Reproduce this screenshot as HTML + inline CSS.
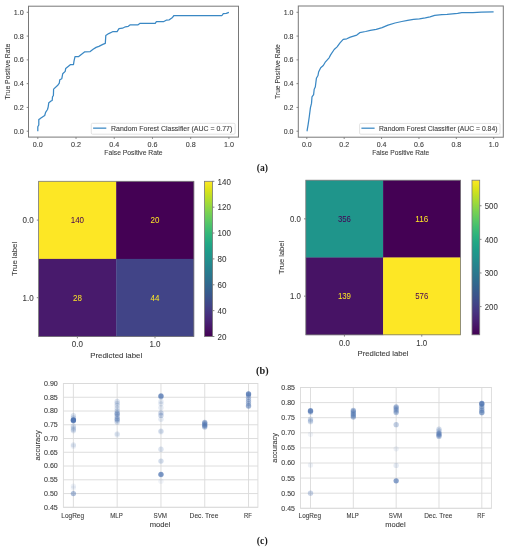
<!DOCTYPE html>
<html><head><meta charset="utf-8"><style>
html,body{margin:0;padding:0;background:#fff;}
svg{display:block;filter:blur(0.35px);font-family:"Liberation Sans", sans-serif;}
</style></head><body>
<svg width="510" height="550" viewBox="0 0 510 550">
<rect width="510" height="550" fill="#fff"/>
<path d="M37.8,131.2 L37.8,126.8 L38.8,125.0 L38.8,119.5 L40.2,118.6 L44.7,115.5 L45.6,112.3 L47.5,109.5 L48.2,106.8 L48.8,102.7 L51.1,100.9 L52.2,100.5 L52.5,96.8 L53.4,95.5 L53.6,89.1 L57.5,85.5 L59.3,83.1 L59.8,79.7 L61.8,78.7 L62.7,73.8 L65.2,71.4 L65.7,68.4 L70.6,64.5 L73.5,64.5 L74.0,61.1 L75.0,56.7 L78.4,56.7 L84.8,51.8 L90.2,51.6 L93.1,49.3 L96.1,47.4 L98.9,46.4 L102.8,44.4 L105.3,43.4 L105.8,35.6 L108.7,33.6 L112.6,31.7 L117.1,31.7 L119.0,28.7 L122.5,28.2 L125.4,26.8 L128.3,26.3 L130.3,24.8 L138.1,24.8 L140.1,23.3 L155.2,23.3 L156.4,21.7 L163.4,21.7 L166.2,20.2 L169.3,19.8 L172.5,17.4 L174.0,15.5 L222.0,15.5 L223.3,13.7 L226.3,13.3 L228.9,12.3" fill="none" stroke="#3a88c4" stroke-width="1.25" stroke-linejoin="round"/>
<rect x="28.5" y="6.2" width="210.0" height="130.9" fill="none" stroke="#787878" stroke-width="1"/>
<line x1="26.7" y1="131.20" x2="28.5" y2="131.20" stroke="#787878" stroke-width="0.9"/>
<text x="23.70" y="133.80" font-size="6.65" text-anchor="end" fill="#3a3a3a" stroke="#3a3a3a" stroke-width="0.08" textLength="9.97" lengthAdjust="spacingAndGlyphs">0.0</text>
<line x1="37.80" y1="137.1" x2="37.80" y2="138.9" stroke="#787878" stroke-width="0.9"/>
<text x="37.80" y="146.70" font-size="6.65" text-anchor="middle" fill="#3a3a3a" stroke="#3a3a3a" stroke-width="0.08" textLength="9.97" lengthAdjust="spacingAndGlyphs">0.0</text>
<line x1="26.7" y1="107.42" x2="28.5" y2="107.42" stroke="#787878" stroke-width="0.9"/>
<text x="23.70" y="110.02" font-size="6.65" text-anchor="end" fill="#3a3a3a" stroke="#3a3a3a" stroke-width="0.08" textLength="9.97" lengthAdjust="spacingAndGlyphs">0.2</text>
<line x1="76.02" y1="137.1" x2="76.02" y2="138.9" stroke="#787878" stroke-width="0.9"/>
<text x="76.02" y="146.70" font-size="6.65" text-anchor="middle" fill="#3a3a3a" stroke="#3a3a3a" stroke-width="0.08" textLength="9.97" lengthAdjust="spacingAndGlyphs">0.2</text>
<line x1="26.7" y1="83.64" x2="28.5" y2="83.64" stroke="#787878" stroke-width="0.9"/>
<text x="23.70" y="86.24" font-size="6.65" text-anchor="end" fill="#3a3a3a" stroke="#3a3a3a" stroke-width="0.08" textLength="9.97" lengthAdjust="spacingAndGlyphs">0.4</text>
<line x1="114.24" y1="137.1" x2="114.24" y2="138.9" stroke="#787878" stroke-width="0.9"/>
<text x="114.24" y="146.70" font-size="6.65" text-anchor="middle" fill="#3a3a3a" stroke="#3a3a3a" stroke-width="0.08" textLength="9.97" lengthAdjust="spacingAndGlyphs">0.4</text>
<line x1="26.7" y1="59.86" x2="28.5" y2="59.86" stroke="#787878" stroke-width="0.9"/>
<text x="23.70" y="62.46" font-size="6.65" text-anchor="end" fill="#3a3a3a" stroke="#3a3a3a" stroke-width="0.08" textLength="9.97" lengthAdjust="spacingAndGlyphs">0.6</text>
<line x1="152.46" y1="137.1" x2="152.46" y2="138.9" stroke="#787878" stroke-width="0.9"/>
<text x="152.46" y="146.70" font-size="6.65" text-anchor="middle" fill="#3a3a3a" stroke="#3a3a3a" stroke-width="0.08" textLength="9.97" lengthAdjust="spacingAndGlyphs">0.6</text>
<line x1="26.7" y1="36.08" x2="28.5" y2="36.08" stroke="#787878" stroke-width="0.9"/>
<text x="23.70" y="38.68" font-size="6.65" text-anchor="end" fill="#3a3a3a" stroke="#3a3a3a" stroke-width="0.08" textLength="9.97" lengthAdjust="spacingAndGlyphs">0.8</text>
<line x1="190.68" y1="137.1" x2="190.68" y2="138.9" stroke="#787878" stroke-width="0.9"/>
<text x="190.68" y="146.70" font-size="6.65" text-anchor="middle" fill="#3a3a3a" stroke="#3a3a3a" stroke-width="0.08" textLength="9.97" lengthAdjust="spacingAndGlyphs">0.8</text>
<line x1="26.7" y1="12.30" x2="28.5" y2="12.30" stroke="#787878" stroke-width="0.9"/>
<text x="23.70" y="14.90" font-size="6.65" text-anchor="end" fill="#3a3a3a" stroke="#3a3a3a" stroke-width="0.08" textLength="9.97" lengthAdjust="spacingAndGlyphs">1.0</text>
<line x1="228.90" y1="137.1" x2="228.90" y2="138.9" stroke="#787878" stroke-width="0.9"/>
<text x="228.90" y="146.70" font-size="6.65" text-anchor="middle" fill="#3a3a3a" stroke="#3a3a3a" stroke-width="0.08" textLength="9.97" lengthAdjust="spacingAndGlyphs">1.0</text>
<rect x="91.3" y="123.3" width="143.8" height="10.899999999999991" rx="1.2" fill="#fff" stroke="#dcdcdc" stroke-width="0.8"/>
<line x1="93.1" y1="128.15" x2="106.3" y2="128.15" stroke="#3a88c4" stroke-width="1.25"/>
<text x="111.10" y="131.00" font-size="6.65" text-anchor="start" fill="#3a3a3a" stroke="#3a3a3a" stroke-width="0.08" textLength="121.15" lengthAdjust="spacingAndGlyphs">Random Forest Classifier (AUC = 0.77)</text>
<text x="133.50" y="154.70" font-size="6.65" text-anchor="middle" fill="#3a3a3a" stroke="#3a3a3a" stroke-width="0.08" textLength="58.27" lengthAdjust="spacingAndGlyphs">False Positive Rate</text>
<text x="0" y="0" font-size="6.65" text-anchor="middle" fill="#3a3a3a" stroke="#3a3a3a" stroke-width="0.08" textLength="55.85" lengthAdjust="spacingAndGlyphs" transform="translate(10.40,71.65) rotate(-90)">True Positive Rate</text>
<path d="M306.8,131.2 L307.1,130.7 L308.2,124.1 L309.3,116.5 L310.4,107.8 L311.5,103.4 L312.0,96.8 L313.6,94.7 L314.2,89.2 L315.3,87.0 L316.4,78.3 L318.0,75.5 L318.6,72.0 L320.7,67.7 L323.3,65.5 L325.5,61.8 L329.1,57.8 L330.6,54.9 L334.2,49.5 L337.1,46.9 L340.0,42.9 L343.2,39.4 L346.8,38.8 L350.3,37.1 L356.8,35.1 L359.7,32.7 L365.6,31.5 L370.3,30.4 L376.2,29.4 L382.1,27.6 L388.0,25.1 L395.0,23.0 L401.8,21.5 L407.6,20.3 L413.5,19.4 L419.4,18.9 L425.3,17.9 L430.0,16.8 L434.7,15.4 L441.8,14.6 L447.1,14.4 L457.6,13.4 L461.8,12.7 L472.9,12.6 L481.2,12.2 L493.6,11.9" fill="none" stroke="#3a88c4" stroke-width="1.25" stroke-linejoin="round"/>
<rect x="298.3" y="6.0" width="205.0" height="131.2" fill="none" stroke="#787878" stroke-width="1"/>
<line x1="296.5" y1="131.20" x2="298.3" y2="131.20" stroke="#787878" stroke-width="0.9"/>
<text x="293.50" y="133.80" font-size="6.50" text-anchor="end" fill="#3a3a3a" stroke="#3a3a3a" stroke-width="0.08" textLength="9.75" lengthAdjust="spacingAndGlyphs">0.0</text>
<line x1="306.80" y1="137.2" x2="306.80" y2="139.0" stroke="#787878" stroke-width="0.9"/>
<text x="306.80" y="146.80" font-size="6.50" text-anchor="middle" fill="#3a3a3a" stroke="#3a3a3a" stroke-width="0.08" textLength="9.75" lengthAdjust="spacingAndGlyphs">0.0</text>
<line x1="296.5" y1="107.42" x2="298.3" y2="107.42" stroke="#787878" stroke-width="0.9"/>
<text x="293.50" y="110.02" font-size="6.50" text-anchor="end" fill="#3a3a3a" stroke="#3a3a3a" stroke-width="0.08" textLength="9.75" lengthAdjust="spacingAndGlyphs">0.2</text>
<line x1="344.18" y1="137.2" x2="344.18" y2="139.0" stroke="#787878" stroke-width="0.9"/>
<text x="344.18" y="146.80" font-size="6.50" text-anchor="middle" fill="#3a3a3a" stroke="#3a3a3a" stroke-width="0.08" textLength="9.75" lengthAdjust="spacingAndGlyphs">0.2</text>
<line x1="296.5" y1="83.64" x2="298.3" y2="83.64" stroke="#787878" stroke-width="0.9"/>
<text x="293.50" y="86.24" font-size="6.50" text-anchor="end" fill="#3a3a3a" stroke="#3a3a3a" stroke-width="0.08" textLength="9.75" lengthAdjust="spacingAndGlyphs">0.4</text>
<line x1="381.56" y1="137.2" x2="381.56" y2="139.0" stroke="#787878" stroke-width="0.9"/>
<text x="381.56" y="146.80" font-size="6.50" text-anchor="middle" fill="#3a3a3a" stroke="#3a3a3a" stroke-width="0.08" textLength="9.75" lengthAdjust="spacingAndGlyphs">0.4</text>
<line x1="296.5" y1="59.86" x2="298.3" y2="59.86" stroke="#787878" stroke-width="0.9"/>
<text x="293.50" y="62.46" font-size="6.50" text-anchor="end" fill="#3a3a3a" stroke="#3a3a3a" stroke-width="0.08" textLength="9.75" lengthAdjust="spacingAndGlyphs">0.6</text>
<line x1="418.94" y1="137.2" x2="418.94" y2="139.0" stroke="#787878" stroke-width="0.9"/>
<text x="418.94" y="146.80" font-size="6.50" text-anchor="middle" fill="#3a3a3a" stroke="#3a3a3a" stroke-width="0.08" textLength="9.75" lengthAdjust="spacingAndGlyphs">0.6</text>
<line x1="296.5" y1="36.08" x2="298.3" y2="36.08" stroke="#787878" stroke-width="0.9"/>
<text x="293.50" y="38.68" font-size="6.50" text-anchor="end" fill="#3a3a3a" stroke="#3a3a3a" stroke-width="0.08" textLength="9.75" lengthAdjust="spacingAndGlyphs">0.8</text>
<line x1="456.32" y1="137.2" x2="456.32" y2="139.0" stroke="#787878" stroke-width="0.9"/>
<text x="456.32" y="146.80" font-size="6.50" text-anchor="middle" fill="#3a3a3a" stroke="#3a3a3a" stroke-width="0.08" textLength="9.75" lengthAdjust="spacingAndGlyphs">0.8</text>
<line x1="296.5" y1="12.30" x2="298.3" y2="12.30" stroke="#787878" stroke-width="0.9"/>
<text x="293.50" y="14.90" font-size="6.50" text-anchor="end" fill="#3a3a3a" stroke="#3a3a3a" stroke-width="0.08" textLength="9.75" lengthAdjust="spacingAndGlyphs">1.0</text>
<line x1="493.70" y1="137.2" x2="493.70" y2="139.0" stroke="#787878" stroke-width="0.9"/>
<text x="493.70" y="146.80" font-size="6.50" text-anchor="middle" fill="#3a3a3a" stroke="#3a3a3a" stroke-width="0.08" textLength="9.75" lengthAdjust="spacingAndGlyphs">1.0</text>
<rect x="359.6" y="123.4" width="140.39999999999998" height="10.799999999999983" rx="1.2" fill="#fff" stroke="#dcdcdc" stroke-width="0.8"/>
<line x1="361.40000000000003" y1="128.20" x2="374.6" y2="128.20" stroke="#3a88c4" stroke-width="1.25"/>
<text x="378.96" y="131.00" font-size="6.50" text-anchor="start" fill="#3a3a3a" stroke="#3a3a3a" stroke-width="0.08" textLength="118.49" lengthAdjust="spacingAndGlyphs">Random Forest Classifier (AUC = 0.84)</text>
<text x="400.80" y="154.80" font-size="6.50" text-anchor="middle" fill="#3a3a3a" stroke="#3a3a3a" stroke-width="0.08" textLength="56.99" lengthAdjust="spacingAndGlyphs">False Positive Rate</text>
<text x="0" y="0" font-size="6.50" text-anchor="middle" fill="#3a3a3a" stroke="#3a3a3a" stroke-width="0.08" textLength="54.62" lengthAdjust="spacingAndGlyphs" transform="translate(280.20,71.60) rotate(-90)">True Positive Rate</text>
<rect x="38.60" y="181.30" width="77.90" height="77.90" fill="#fde725"/>
<rect x="116.20" y="181.30" width="77.90" height="77.90" fill="#440154"/>
<rect x="38.60" y="258.90" width="77.90" height="77.90" fill="#481a6c"/>
<rect x="116.20" y="258.90" width="77.90" height="77.90" fill="#414487"/>
<text x="77.40" y="223.20" font-size="8.40" text-anchor="middle" fill="#440154" textLength="13.36" lengthAdjust="spacingAndGlyphs">140</text>
<text x="155.00" y="223.20" font-size="8.40" text-anchor="middle" fill="#fde725" textLength="8.91" lengthAdjust="spacingAndGlyphs">20</text>
<text x="77.40" y="300.80" font-size="8.40" text-anchor="middle" fill="#fde725" textLength="8.91" lengthAdjust="spacingAndGlyphs">28</text>
<text x="155.00" y="300.80" font-size="8.40" text-anchor="middle" fill="#fde725" textLength="8.91" lengthAdjust="spacingAndGlyphs">44</text>
<rect x="38.6" y="181.3" width="155.2" height="155.2" fill="none" stroke="#787878" stroke-width="0.8"/>
<line x1="36.800000000000004" y1="220.10" x2="38.6" y2="220.10" stroke="#787878" stroke-width="0.9"/>
<text x="33.60" y="223.30" font-size="8.40" text-anchor="end" fill="#3a3a3a" stroke="#3a3a3a" stroke-width="0.08" textLength="11.13" lengthAdjust="spacingAndGlyphs">0.0</text>
<line x1="77.40" y1="336.5" x2="77.40" y2="338.3" stroke="#787878" stroke-width="0.9"/>
<text x="77.40" y="347.30" font-size="8.40" text-anchor="middle" fill="#3a3a3a" stroke="#3a3a3a" stroke-width="0.08" textLength="11.13" lengthAdjust="spacingAndGlyphs">0.0</text>
<line x1="36.800000000000004" y1="297.70" x2="38.6" y2="297.70" stroke="#787878" stroke-width="0.9"/>
<text x="33.60" y="300.90" font-size="8.40" text-anchor="end" fill="#3a3a3a" stroke="#3a3a3a" stroke-width="0.08" textLength="11.13" lengthAdjust="spacingAndGlyphs">1.0</text>
<line x1="155.00" y1="336.5" x2="155.00" y2="338.3" stroke="#787878" stroke-width="0.9"/>
<text x="155.00" y="347.30" font-size="8.40" text-anchor="middle" fill="#3a3a3a" stroke="#3a3a3a" stroke-width="0.08" textLength="11.13" lengthAdjust="spacingAndGlyphs">1.0</text>
<text x="116.20" y="357.60" font-size="7.42" text-anchor="middle" fill="#3a3a3a" stroke="#3a3a3a" stroke-width="0.08" textLength="52.01" lengthAdjust="spacingAndGlyphs">Predicted label</text>
<text x="0" y="0" font-size="7.42" text-anchor="middle" fill="#3a3a3a" stroke="#3a3a3a" stroke-width="0.08" textLength="34.02" lengthAdjust="spacingAndGlyphs" transform="translate(17.00,258.90) rotate(-90)">True label</text>
<defs><linearGradient id="g1" x1="0" y1="0" x2="0" y2="1"><stop offset="0.000" stop-color="#fde725"/><stop offset="0.050" stop-color="#dfe318"/><stop offset="0.100" stop-color="#bddf26"/><stop offset="0.150" stop-color="#9bd93c"/><stop offset="0.200" stop-color="#7ad151"/><stop offset="0.250" stop-color="#5ec962"/><stop offset="0.300" stop-color="#44bf70"/><stop offset="0.350" stop-color="#2fb47c"/><stop offset="0.400" stop-color="#22a884"/><stop offset="0.450" stop-color="#1e9c89"/><stop offset="0.500" stop-color="#21918c"/><stop offset="0.550" stop-color="#25848e"/><stop offset="0.600" stop-color="#2a788e"/><stop offset="0.650" stop-color="#2f6c8e"/><stop offset="0.700" stop-color="#355f8d"/><stop offset="0.750" stop-color="#3b528b"/><stop offset="0.800" stop-color="#414487"/><stop offset="0.850" stop-color="#463480"/><stop offset="0.900" stop-color="#482475"/><stop offset="0.950" stop-color="#471365"/><stop offset="1.000" stop-color="#440154"/></linearGradient></defs>
<rect x="204.5" y="181.3" width="8.1" height="155.2" fill="url(#g1)" stroke="#787878" stroke-width="0.8"/>
<line x1="212.6" y1="336.50" x2="214.4" y2="336.50" stroke="#787878" stroke-width="0.9"/>
<text x="217.60" y="339.80" font-size="8.40" text-anchor="start" fill="#3a3a3a" stroke="#3a3a3a" stroke-width="0.08" textLength="8.91" lengthAdjust="spacingAndGlyphs">20</text>
<line x1="212.6" y1="310.63" x2="214.4" y2="310.63" stroke="#787878" stroke-width="0.9"/>
<text x="217.60" y="313.93" font-size="8.40" text-anchor="start" fill="#3a3a3a" stroke="#3a3a3a" stroke-width="0.08" textLength="8.91" lengthAdjust="spacingAndGlyphs">40</text>
<line x1="212.6" y1="284.77" x2="214.4" y2="284.77" stroke="#787878" stroke-width="0.9"/>
<text x="217.60" y="288.07" font-size="8.40" text-anchor="start" fill="#3a3a3a" stroke="#3a3a3a" stroke-width="0.08" textLength="8.91" lengthAdjust="spacingAndGlyphs">60</text>
<line x1="212.6" y1="258.90" x2="214.4" y2="258.90" stroke="#787878" stroke-width="0.9"/>
<text x="217.60" y="262.20" font-size="8.40" text-anchor="start" fill="#3a3a3a" stroke="#3a3a3a" stroke-width="0.08" textLength="8.91" lengthAdjust="spacingAndGlyphs">80</text>
<line x1="212.6" y1="233.03" x2="214.4" y2="233.03" stroke="#787878" stroke-width="0.9"/>
<text x="217.60" y="236.33" font-size="8.40" text-anchor="start" fill="#3a3a3a" stroke="#3a3a3a" stroke-width="0.08" textLength="13.36" lengthAdjust="spacingAndGlyphs">100</text>
<line x1="212.6" y1="207.17" x2="214.4" y2="207.17" stroke="#787878" stroke-width="0.9"/>
<text x="217.60" y="210.47" font-size="8.40" text-anchor="start" fill="#3a3a3a" stroke="#3a3a3a" stroke-width="0.08" textLength="13.36" lengthAdjust="spacingAndGlyphs">120</text>
<line x1="212.6" y1="181.30" x2="214.4" y2="181.30" stroke="#787878" stroke-width="0.9"/>
<text x="217.60" y="184.60" font-size="8.40" text-anchor="start" fill="#3a3a3a" stroke="#3a3a3a" stroke-width="0.08" textLength="13.36" lengthAdjust="spacingAndGlyphs">140</text>
<rect x="305.80" y="180.20" width="77.60" height="77.60" fill="#1f958b"/>
<rect x="383.10" y="180.20" width="77.60" height="77.60" fill="#440154"/>
<rect x="305.80" y="257.50" width="77.60" height="77.60" fill="#471365"/>
<rect x="383.10" y="257.50" width="77.60" height="77.60" fill="#fde725"/>
<text x="344.45" y="221.95" font-size="8.23" text-anchor="middle" fill="#440154" textLength="13.09" lengthAdjust="spacingAndGlyphs">356</text>
<text x="421.75" y="221.95" font-size="8.23" text-anchor="middle" fill="#fde725" textLength="13.09" lengthAdjust="spacingAndGlyphs">116</text>
<text x="344.45" y="299.25" font-size="8.23" text-anchor="middle" fill="#fde725" textLength="13.09" lengthAdjust="spacingAndGlyphs">139</text>
<text x="421.75" y="299.25" font-size="8.23" text-anchor="middle" fill="#440154" textLength="13.09" lengthAdjust="spacingAndGlyphs">576</text>
<rect x="305.8" y="180.2" width="154.6" height="154.6" fill="none" stroke="#787878" stroke-width="0.8"/>
<line x1="304.0" y1="218.85" x2="305.8" y2="218.85" stroke="#787878" stroke-width="0.9"/>
<text x="300.80" y="222.05" font-size="8.23" text-anchor="end" fill="#3a3a3a" stroke="#3a3a3a" stroke-width="0.08" textLength="10.91" lengthAdjust="spacingAndGlyphs">0.0</text>
<line x1="344.45" y1="334.79999999999995" x2="344.45" y2="336.59999999999997" stroke="#787878" stroke-width="0.9"/>
<text x="344.45" y="345.60" font-size="8.23" text-anchor="middle" fill="#3a3a3a" stroke="#3a3a3a" stroke-width="0.08" textLength="10.91" lengthAdjust="spacingAndGlyphs">0.0</text>
<line x1="304.0" y1="296.15" x2="305.8" y2="296.15" stroke="#787878" stroke-width="0.9"/>
<text x="300.80" y="299.35" font-size="8.23" text-anchor="end" fill="#3a3a3a" stroke="#3a3a3a" stroke-width="0.08" textLength="10.91" lengthAdjust="spacingAndGlyphs">1.0</text>
<line x1="421.75" y1="334.79999999999995" x2="421.75" y2="336.59999999999997" stroke="#787878" stroke-width="0.9"/>
<text x="421.75" y="345.60" font-size="8.23" text-anchor="middle" fill="#3a3a3a" stroke="#3a3a3a" stroke-width="0.08" textLength="10.91" lengthAdjust="spacingAndGlyphs">1.0</text>
<text x="383.10" y="355.90" font-size="7.27" text-anchor="middle" fill="#3a3a3a" stroke="#3a3a3a" stroke-width="0.08" textLength="50.97" lengthAdjust="spacingAndGlyphs">Predicted label</text>
<text x="0" y="0" font-size="7.27" text-anchor="middle" fill="#3a3a3a" stroke="#3a3a3a" stroke-width="0.08" textLength="33.34" lengthAdjust="spacingAndGlyphs" transform="translate(284.40,257.50) rotate(-90)">True label</text>
<defs><linearGradient id="g2" x1="0" y1="0" x2="0" y2="1"><stop offset="0.000" stop-color="#fde725"/><stop offset="0.050" stop-color="#dfe318"/><stop offset="0.100" stop-color="#bddf26"/><stop offset="0.150" stop-color="#9bd93c"/><stop offset="0.200" stop-color="#7ad151"/><stop offset="0.250" stop-color="#5ec962"/><stop offset="0.300" stop-color="#44bf70"/><stop offset="0.350" stop-color="#2fb47c"/><stop offset="0.400" stop-color="#22a884"/><stop offset="0.450" stop-color="#1e9c89"/><stop offset="0.500" stop-color="#21918c"/><stop offset="0.550" stop-color="#25848e"/><stop offset="0.600" stop-color="#2a788e"/><stop offset="0.650" stop-color="#2f6c8e"/><stop offset="0.700" stop-color="#355f8d"/><stop offset="0.750" stop-color="#3b528b"/><stop offset="0.800" stop-color="#414487"/><stop offset="0.850" stop-color="#463480"/><stop offset="0.900" stop-color="#482475"/><stop offset="0.950" stop-color="#471365"/><stop offset="1.000" stop-color="#440154"/></linearGradient></defs>
<rect x="472" y="180.2" width="7.7" height="154.6" fill="url(#g2)" stroke="#787878" stroke-width="0.8"/>
<line x1="479.7" y1="306.57" x2="481.5" y2="306.57" stroke="#787878" stroke-width="0.9"/>
<text x="484.70" y="309.87" font-size="8.23" text-anchor="start" fill="#3a3a3a" stroke="#3a3a3a" stroke-width="0.08" textLength="13.09" lengthAdjust="spacingAndGlyphs">200</text>
<line x1="479.7" y1="272.96" x2="481.5" y2="272.96" stroke="#787878" stroke-width="0.9"/>
<text x="484.70" y="276.26" font-size="8.23" text-anchor="start" fill="#3a3a3a" stroke="#3a3a3a" stroke-width="0.08" textLength="13.09" lengthAdjust="spacingAndGlyphs">300</text>
<line x1="479.7" y1="239.35" x2="481.5" y2="239.35" stroke="#787878" stroke-width="0.9"/>
<text x="484.70" y="242.65" font-size="8.23" text-anchor="start" fill="#3a3a3a" stroke="#3a3a3a" stroke-width="0.08" textLength="13.09" lengthAdjust="spacingAndGlyphs">400</text>
<line x1="479.7" y1="205.74" x2="481.5" y2="205.74" stroke="#787878" stroke-width="0.9"/>
<text x="484.70" y="209.04" font-size="8.23" text-anchor="start" fill="#3a3a3a" stroke="#3a3a3a" stroke-width="0.08" textLength="13.09" lengthAdjust="spacingAndGlyphs">500</text>
<line x1="63.4" y1="507.30" x2="257.9" y2="507.30" stroke="#dadada" stroke-width="0.9"/>
<text x="57.80" y="509.70" font-size="6.57" text-anchor="end" fill="#3a3a3a" stroke="#3a3a3a" stroke-width="0.08" textLength="13.80" lengthAdjust="spacingAndGlyphs">0.45</text>
<line x1="63.4" y1="493.54" x2="257.9" y2="493.54" stroke="#dadada" stroke-width="0.9"/>
<text x="57.80" y="495.94" font-size="6.57" text-anchor="end" fill="#3a3a3a" stroke="#3a3a3a" stroke-width="0.08" textLength="13.80" lengthAdjust="spacingAndGlyphs">0.50</text>
<line x1="63.4" y1="479.79" x2="257.9" y2="479.79" stroke="#dadada" stroke-width="0.9"/>
<text x="57.80" y="482.19" font-size="6.57" text-anchor="end" fill="#3a3a3a" stroke="#3a3a3a" stroke-width="0.08" textLength="13.80" lengthAdjust="spacingAndGlyphs">0.55</text>
<line x1="63.4" y1="466.03" x2="257.9" y2="466.03" stroke="#dadada" stroke-width="0.9"/>
<text x="57.80" y="468.43" font-size="6.57" text-anchor="end" fill="#3a3a3a" stroke="#3a3a3a" stroke-width="0.08" textLength="13.80" lengthAdjust="spacingAndGlyphs">0.60</text>
<line x1="63.4" y1="452.28" x2="257.9" y2="452.28" stroke="#dadada" stroke-width="0.9"/>
<text x="57.80" y="454.68" font-size="6.57" text-anchor="end" fill="#3a3a3a" stroke="#3a3a3a" stroke-width="0.08" textLength="13.80" lengthAdjust="spacingAndGlyphs">0.65</text>
<line x1="63.4" y1="438.52" x2="257.9" y2="438.52" stroke="#dadada" stroke-width="0.9"/>
<text x="57.80" y="440.92" font-size="6.57" text-anchor="end" fill="#3a3a3a" stroke="#3a3a3a" stroke-width="0.08" textLength="13.80" lengthAdjust="spacingAndGlyphs">0.70</text>
<line x1="63.4" y1="424.77" x2="257.9" y2="424.77" stroke="#dadada" stroke-width="0.9"/>
<text x="57.80" y="427.17" font-size="6.57" text-anchor="end" fill="#3a3a3a" stroke="#3a3a3a" stroke-width="0.08" textLength="13.80" lengthAdjust="spacingAndGlyphs">0.75</text>
<line x1="63.4" y1="411.01" x2="257.9" y2="411.01" stroke="#dadada" stroke-width="0.9"/>
<text x="57.80" y="413.41" font-size="6.57" text-anchor="end" fill="#3a3a3a" stroke="#3a3a3a" stroke-width="0.08" textLength="13.80" lengthAdjust="spacingAndGlyphs">0.80</text>
<line x1="63.4" y1="397.26" x2="257.9" y2="397.26" stroke="#dadada" stroke-width="0.9"/>
<text x="57.80" y="399.66" font-size="6.57" text-anchor="end" fill="#3a3a3a" stroke="#3a3a3a" stroke-width="0.08" textLength="13.80" lengthAdjust="spacingAndGlyphs">0.85</text>
<line x1="63.4" y1="383.50" x2="257.9" y2="383.50" stroke="#dadada" stroke-width="0.9"/>
<text x="57.80" y="385.90" font-size="6.57" text-anchor="end" fill="#3a3a3a" stroke="#3a3a3a" stroke-width="0.08" textLength="13.80" lengthAdjust="spacingAndGlyphs">0.90</text>
<line x1="73.40" y1="383.5" x2="73.40" y2="507.3" stroke="#dadada" stroke-width="0.9"/>
<line x1="117.18" y1="383.5" x2="117.18" y2="507.3" stroke="#dadada" stroke-width="0.9"/>
<line x1="160.96" y1="383.5" x2="160.96" y2="507.3" stroke="#dadada" stroke-width="0.9"/>
<line x1="204.74" y1="383.5" x2="204.74" y2="507.3" stroke="#dadada" stroke-width="0.9"/>
<line x1="248.52" y1="383.5" x2="248.52" y2="507.3" stroke="#dadada" stroke-width="0.9"/>
<rect x="63.4" y="383.5" width="194.49999999999997" height="123.80000000000001" fill="none" stroke="#dadada" stroke-width="0.9"/>
<text x="72.70" y="517.90" font-size="6.57" text-anchor="middle" fill="#3a3a3a" stroke="#3a3a3a" stroke-width="0.08" textLength="22.85" lengthAdjust="spacingAndGlyphs">LogReg</text>
<text x="116.48" y="517.90" font-size="6.57" text-anchor="middle" fill="#3a3a3a" stroke="#3a3a3a" stroke-width="0.08" textLength="12.54" lengthAdjust="spacingAndGlyphs">MLP</text>
<text x="160.26" y="517.90" font-size="6.57" text-anchor="middle" fill="#3a3a3a" stroke="#3a3a3a" stroke-width="0.08" textLength="13.53" lengthAdjust="spacingAndGlyphs">SVM</text>
<text x="204.04" y="517.90" font-size="6.57" text-anchor="middle" fill="#3a3a3a" stroke="#3a3a3a" stroke-width="0.08" textLength="28.86" lengthAdjust="spacingAndGlyphs">Dec. Tree</text>
<text x="247.82" y="517.90" font-size="6.57" text-anchor="middle" fill="#3a3a3a" stroke="#3a3a3a" stroke-width="0.08" textLength="7.87" lengthAdjust="spacingAndGlyphs">RF</text>
<text x="160.15" y="527.00" font-size="7.10" text-anchor="middle" fill="#3a3a3a" stroke="#3a3a3a" stroke-width="0.08" textLength="20.86" lengthAdjust="spacingAndGlyphs">model</text>
<text x="0" y="0" font-size="7.10" text-anchor="middle" fill="#3a3a3a" stroke="#3a3a3a" stroke-width="0.08" textLength="30.23" lengthAdjust="spacingAndGlyphs" transform="translate(39.90,445.40) rotate(-90)">accuracy</text>
<circle cx="73.40" cy="415.69" r="2.65" fill="#4c72b0" fill-opacity="0.2"/>
<circle cx="73.40" cy="417.89" r="2.65" fill="#4c72b0" fill-opacity="0.25"/>
<circle cx="73.40" cy="420.09" r="2.65" fill="#4c72b0" fill-opacity="0.8"/>
<circle cx="73.40" cy="420.64" r="2.65" fill="#4c72b0" fill-opacity="0.6"/>
<circle cx="73.40" cy="419.81" r="2.65" fill="#4c72b0" fill-opacity="0.5"/>
<circle cx="73.40" cy="426.14" r="2.65" fill="#4c72b0" fill-opacity="0.2"/>
<circle cx="73.40" cy="428.07" r="2.65" fill="#4c72b0" fill-opacity="0.2"/>
<circle cx="73.40" cy="429.72" r="2.65" fill="#4c72b0" fill-opacity="0.2"/>
<circle cx="73.40" cy="430.82" r="2.65" fill="#4c72b0" fill-opacity="0.15"/>
<circle cx="73.40" cy="444.85" r="2.65" fill="#4c72b0" fill-opacity="0.15"/>
<circle cx="73.40" cy="446.23" r="2.65" fill="#4c72b0" fill-opacity="0.1"/>
<circle cx="73.40" cy="486.12" r="2.65" fill="#4c72b0" fill-opacity="0.1"/>
<circle cx="73.40" cy="488.04" r="2.65" fill="#4c72b0" fill-opacity="0.08"/>
<circle cx="73.40" cy="493.54" r="2.65" fill="#4c72b0" fill-opacity="0.45"/>
<circle cx="117.18" cy="401.38" r="2.65" fill="#4c72b0" fill-opacity="0.2"/>
<circle cx="117.18" cy="403.31" r="2.65" fill="#4c72b0" fill-opacity="0.2"/>
<circle cx="117.18" cy="405.51" r="2.65" fill="#4c72b0" fill-opacity="0.2"/>
<circle cx="117.18" cy="408.26" r="2.65" fill="#4c72b0" fill-opacity="0.2"/>
<circle cx="117.18" cy="411.01" r="2.65" fill="#4c72b0" fill-opacity="0.25"/>
<circle cx="117.18" cy="413.21" r="2.65" fill="#4c72b0" fill-opacity="0.4"/>
<circle cx="117.18" cy="414.31" r="2.65" fill="#4c72b0" fill-opacity="0.35"/>
<circle cx="117.18" cy="416.51" r="2.65" fill="#4c72b0" fill-opacity="0.3"/>
<circle cx="117.18" cy="418.71" r="2.65" fill="#4c72b0" fill-opacity="0.4"/>
<circle cx="117.18" cy="420.09" r="2.65" fill="#4c72b0" fill-opacity="0.35"/>
<circle cx="117.18" cy="422.02" r="2.65" fill="#4c72b0" fill-opacity="0.25"/>
<circle cx="117.18" cy="433.85" r="2.65" fill="#4c72b0" fill-opacity="0.15"/>
<circle cx="117.18" cy="434.95" r="2.65" fill="#4c72b0" fill-opacity="0.1"/>
<circle cx="160.96" cy="395.88" r="2.65" fill="#4c72b0" fill-opacity="0.65"/>
<circle cx="160.96" cy="396.71" r="2.65" fill="#4c72b0" fill-opacity="0.35"/>
<circle cx="160.96" cy="401.38" r="2.65" fill="#4c72b0" fill-opacity="0.15"/>
<circle cx="160.96" cy="403.86" r="2.65" fill="#4c72b0" fill-opacity="0.15"/>
<circle cx="160.96" cy="407.71" r="2.65" fill="#4c72b0" fill-opacity="0.15"/>
<circle cx="160.96" cy="412.94" r="2.65" fill="#4c72b0" fill-opacity="0.3"/>
<circle cx="160.96" cy="415.41" r="2.65" fill="#4c72b0" fill-opacity="0.3"/>
<circle cx="160.96" cy="419.26" r="2.65" fill="#4c72b0" fill-opacity="0.15"/>
<circle cx="160.96" cy="431.09" r="2.65" fill="#4c72b0" fill-opacity="0.2"/>
<circle cx="160.96" cy="431.92" r="2.65" fill="#4c72b0" fill-opacity="0.1"/>
<circle cx="160.96" cy="449.25" r="2.65" fill="#4c72b0" fill-opacity="0.2"/>
<circle cx="160.96" cy="461.08" r="2.65" fill="#4c72b0" fill-opacity="0.25"/>
<circle cx="160.96" cy="474.29" r="2.65" fill="#4c72b0" fill-opacity="0.65"/>
<circle cx="160.96" cy="474.84" r="2.65" fill="#4c72b0" fill-opacity="0.25"/>
<circle cx="160.96" cy="481.16" r="2.65" fill="#4c72b0" fill-opacity="0.08"/>
<circle cx="204.74" cy="422.29" r="2.65" fill="#4c72b0" fill-opacity="0.45"/>
<circle cx="204.74" cy="423.39" r="2.65" fill="#4c72b0" fill-opacity="0.4"/>
<circle cx="204.74" cy="424.77" r="2.65" fill="#4c72b0" fill-opacity="0.45"/>
<circle cx="204.74" cy="425.87" r="2.65" fill="#4c72b0" fill-opacity="0.45"/>
<circle cx="204.74" cy="426.97" r="2.65" fill="#4c72b0" fill-opacity="0.4"/>
<circle cx="248.52" cy="393.95" r="2.65" fill="#4c72b0" fill-opacity="0.75"/>
<circle cx="248.52" cy="395.05" r="2.65" fill="#4c72b0" fill-opacity="0.35"/>
<circle cx="248.52" cy="397.26" r="2.65" fill="#4c72b0" fill-opacity="0.3"/>
<circle cx="248.52" cy="399.46" r="2.65" fill="#4c72b0" fill-opacity="0.3"/>
<circle cx="248.52" cy="401.38" r="2.65" fill="#4c72b0" fill-opacity="0.35"/>
<circle cx="248.52" cy="403.58" r="2.65" fill="#4c72b0" fill-opacity="0.3"/>
<circle cx="248.52" cy="405.51" r="2.65" fill="#4c72b0" fill-opacity="0.35"/>
<circle cx="248.52" cy="406.33" r="2.65" fill="#4c72b0" fill-opacity="0.35"/>
<line x1="300.5" y1="508.30" x2="491.4" y2="508.30" stroke="#dadada" stroke-width="0.9"/>
<text x="294.90" y="510.70" font-size="6.44" text-anchor="end" fill="#3a3a3a" stroke="#3a3a3a" stroke-width="0.08" textLength="13.53" lengthAdjust="spacingAndGlyphs">0.45</text>
<line x1="300.5" y1="493.20" x2="491.4" y2="493.20" stroke="#dadada" stroke-width="0.9"/>
<text x="294.90" y="495.60" font-size="6.44" text-anchor="end" fill="#3a3a3a" stroke="#3a3a3a" stroke-width="0.08" textLength="13.53" lengthAdjust="spacingAndGlyphs">0.50</text>
<line x1="300.5" y1="478.10" x2="491.4" y2="478.10" stroke="#dadada" stroke-width="0.9"/>
<text x="294.90" y="480.50" font-size="6.44" text-anchor="end" fill="#3a3a3a" stroke="#3a3a3a" stroke-width="0.08" textLength="13.53" lengthAdjust="spacingAndGlyphs">0.55</text>
<line x1="300.5" y1="463.00" x2="491.4" y2="463.00" stroke="#dadada" stroke-width="0.9"/>
<text x="294.90" y="465.40" font-size="6.44" text-anchor="end" fill="#3a3a3a" stroke="#3a3a3a" stroke-width="0.08" textLength="13.53" lengthAdjust="spacingAndGlyphs">0.60</text>
<line x1="300.5" y1="447.90" x2="491.4" y2="447.90" stroke="#dadada" stroke-width="0.9"/>
<text x="294.90" y="450.30" font-size="6.44" text-anchor="end" fill="#3a3a3a" stroke="#3a3a3a" stroke-width="0.08" textLength="13.53" lengthAdjust="spacingAndGlyphs">0.65</text>
<line x1="300.5" y1="432.80" x2="491.4" y2="432.80" stroke="#dadada" stroke-width="0.9"/>
<text x="294.90" y="435.20" font-size="6.44" text-anchor="end" fill="#3a3a3a" stroke="#3a3a3a" stroke-width="0.08" textLength="13.53" lengthAdjust="spacingAndGlyphs">0.70</text>
<line x1="300.5" y1="417.70" x2="491.4" y2="417.70" stroke="#dadada" stroke-width="0.9"/>
<text x="294.90" y="420.10" font-size="6.44" text-anchor="end" fill="#3a3a3a" stroke="#3a3a3a" stroke-width="0.08" textLength="13.53" lengthAdjust="spacingAndGlyphs">0.75</text>
<line x1="300.5" y1="402.60" x2="491.4" y2="402.60" stroke="#dadada" stroke-width="0.9"/>
<text x="294.90" y="405.00" font-size="6.44" text-anchor="end" fill="#3a3a3a" stroke="#3a3a3a" stroke-width="0.08" textLength="13.53" lengthAdjust="spacingAndGlyphs">0.80</text>
<line x1="300.5" y1="387.50" x2="491.4" y2="387.50" stroke="#dadada" stroke-width="0.9"/>
<text x="294.90" y="389.90" font-size="6.44" text-anchor="end" fill="#3a3a3a" stroke="#3a3a3a" stroke-width="0.08" textLength="13.53" lengthAdjust="spacingAndGlyphs">0.85</text>
<line x1="310.50" y1="387.5" x2="310.50" y2="508.3" stroke="#dadada" stroke-width="0.9"/>
<line x1="353.33" y1="387.5" x2="353.33" y2="508.3" stroke="#dadada" stroke-width="0.9"/>
<line x1="396.16" y1="387.5" x2="396.16" y2="508.3" stroke="#dadada" stroke-width="0.9"/>
<line x1="438.99" y1="387.5" x2="438.99" y2="508.3" stroke="#dadada" stroke-width="0.9"/>
<line x1="481.82" y1="387.5" x2="481.82" y2="508.3" stroke="#dadada" stroke-width="0.9"/>
<rect x="300.5" y="387.5" width="190.89999999999998" height="120.80000000000001" fill="none" stroke="#dadada" stroke-width="0.9"/>
<text x="309.80" y="518.40" font-size="6.44" text-anchor="middle" fill="#3a3a3a" stroke="#3a3a3a" stroke-width="0.08" textLength="22.40" lengthAdjust="spacingAndGlyphs">LogReg</text>
<text x="352.63" y="518.40" font-size="6.44" text-anchor="middle" fill="#3a3a3a" stroke="#3a3a3a" stroke-width="0.08" textLength="12.29" lengthAdjust="spacingAndGlyphs">MLP</text>
<text x="395.46" y="518.40" font-size="6.44" text-anchor="middle" fill="#3a3a3a" stroke="#3a3a3a" stroke-width="0.08" textLength="13.26" lengthAdjust="spacingAndGlyphs">SVM</text>
<text x="438.29" y="518.40" font-size="6.44" text-anchor="middle" fill="#3a3a3a" stroke="#3a3a3a" stroke-width="0.08" textLength="28.28" lengthAdjust="spacingAndGlyphs">Dec. Tree</text>
<text x="481.12" y="518.40" font-size="6.44" text-anchor="middle" fill="#3a3a3a" stroke="#3a3a3a" stroke-width="0.08" textLength="7.72" lengthAdjust="spacingAndGlyphs">RF</text>
<text x="395.45" y="527.20" font-size="6.96" text-anchor="middle" fill="#3a3a3a" stroke="#3a3a3a" stroke-width="0.08" textLength="20.44" lengthAdjust="spacingAndGlyphs">model</text>
<text x="0" y="0" font-size="6.96" text-anchor="middle" fill="#3a3a3a" stroke="#3a3a3a" stroke-width="0.08" textLength="29.62" lengthAdjust="spacingAndGlyphs" transform="translate(277.00,447.90) rotate(-90)">accuracy</text>
<circle cx="310.50" cy="410.75" r="2.65" fill="#4c72b0" fill-opacity="0.65"/>
<circle cx="310.50" cy="411.36" r="2.65" fill="#4c72b0" fill-opacity="0.45"/>
<circle cx="310.50" cy="412.57" r="2.65" fill="#4c72b0" fill-opacity="0.2"/>
<circle cx="310.50" cy="419.21" r="2.65" fill="#4c72b0" fill-opacity="0.2"/>
<circle cx="310.50" cy="420.72" r="2.65" fill="#4c72b0" fill-opacity="0.2"/>
<circle cx="310.50" cy="421.63" r="2.65" fill="#4c72b0" fill-opacity="0.2"/>
<circle cx="310.50" cy="434.31" r="2.65" fill="#4c72b0" fill-opacity="0.08"/>
<circle cx="310.50" cy="465.11" r="2.65" fill="#4c72b0" fill-opacity="0.1"/>
<circle cx="310.50" cy="493.20" r="2.65" fill="#4c72b0" fill-opacity="0.3"/>
<circle cx="353.33" cy="410.45" r="2.65" fill="#4c72b0" fill-opacity="0.45"/>
<circle cx="353.33" cy="411.66" r="2.65" fill="#4c72b0" fill-opacity="0.4"/>
<circle cx="353.33" cy="413.17" r="2.65" fill="#4c72b0" fill-opacity="0.4"/>
<circle cx="353.33" cy="414.68" r="2.65" fill="#4c72b0" fill-opacity="0.4"/>
<circle cx="353.33" cy="415.89" r="2.65" fill="#4c72b0" fill-opacity="0.4"/>
<circle cx="353.33" cy="417.10" r="2.65" fill="#4c72b0" fill-opacity="0.4"/>
<circle cx="396.16" cy="406.83" r="2.65" fill="#4c72b0" fill-opacity="0.45"/>
<circle cx="396.16" cy="408.04" r="2.65" fill="#4c72b0" fill-opacity="0.35"/>
<circle cx="396.16" cy="409.55" r="2.65" fill="#4c72b0" fill-opacity="0.35"/>
<circle cx="396.16" cy="411.06" r="2.65" fill="#4c72b0" fill-opacity="0.35"/>
<circle cx="396.16" cy="412.57" r="2.65" fill="#4c72b0" fill-opacity="0.4"/>
<circle cx="396.16" cy="424.65" r="2.65" fill="#4c72b0" fill-opacity="0.35"/>
<circle cx="396.16" cy="448.81" r="2.65" fill="#4c72b0" fill-opacity="0.1"/>
<circle cx="396.16" cy="465.42" r="2.65" fill="#4c72b0" fill-opacity="0.15"/>
<circle cx="396.16" cy="480.82" r="2.65" fill="#4c72b0" fill-opacity="0.65"/>
<circle cx="438.99" cy="429.18" r="2.65" fill="#4c72b0" fill-opacity="0.25"/>
<circle cx="438.99" cy="430.99" r="2.65" fill="#4c72b0" fill-opacity="0.25"/>
<circle cx="438.99" cy="432.80" r="2.65" fill="#4c72b0" fill-opacity="0.35"/>
<circle cx="438.99" cy="434.01" r="2.65" fill="#4c72b0" fill-opacity="0.45"/>
<circle cx="438.99" cy="435.22" r="2.65" fill="#4c72b0" fill-opacity="0.45"/>
<circle cx="438.99" cy="436.42" r="2.65" fill="#4c72b0" fill-opacity="0.35"/>
<circle cx="481.82" cy="403.51" r="2.65" fill="#4c72b0" fill-opacity="0.75"/>
<circle cx="481.82" cy="404.41" r="2.65" fill="#4c72b0" fill-opacity="0.4"/>
<circle cx="481.82" cy="406.53" r="2.65" fill="#4c72b0" fill-opacity="0.4"/>
<circle cx="481.82" cy="408.64" r="2.65" fill="#4c72b0" fill-opacity="0.4"/>
<circle cx="481.82" cy="410.45" r="2.65" fill="#4c72b0" fill-opacity="0.4"/>
<circle cx="481.82" cy="412.26" r="2.65" fill="#4c72b0" fill-opacity="0.4"/>
<circle cx="481.82" cy="412.87" r="2.65" fill="#4c72b0" fill-opacity="0.4"/>
<text x="262.3" y="171.3" font-size="10.3" text-anchor="middle" fill="#1a1a1a" font-weight="bold" textLength="11.2" lengthAdjust="spacingAndGlyphs" font-family='"Liberation Serif", serif'>(a)</text>
<text x="262.3" y="374.2" font-size="10.3" text-anchor="middle" fill="#1a1a1a" font-weight="bold" textLength="12.5" lengthAdjust="spacingAndGlyphs" font-family='"Liberation Serif", serif'>(b)</text>
<text x="262.3" y="544.0" font-size="10.3" text-anchor="middle" fill="#1a1a1a" font-weight="bold" textLength="10.9" lengthAdjust="spacingAndGlyphs" font-family='"Liberation Serif", serif'>(c)</text>
</svg>
</body></html>
